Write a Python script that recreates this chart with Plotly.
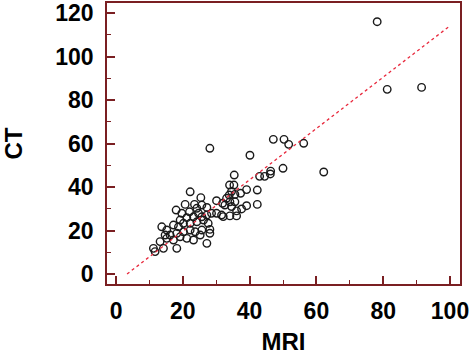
import plotly.graph_objects as go

mri = [78.2, 81.2, 91.5, 47.1, 50.3, 51.7, 56.2, 40.1, 28.1, 62.2,
       50.0, 35.4, 43.0, 44.5, 46.2, 46.3, 39.1, 42.3, 34.0, 35.3,
       34.6, 22.2, 42.3, 39.1, 37.3, 35.6, 33.9, 33.1, 34.1, 35.6,
       32.6, 34.6, 37.6, 36.1, 32.1, 34.1, 36.1, 25.4, 23.5, 20.7,
       18.0, 19.7, 22.0, 24.2, 25.7, 27.2, 30.1, 31.9, 19.2, 21.2,
       23.2, 24.7, 25.7, 27.2, 28.6, 30.1, 31.6, 13.7, 15.2, 17.2,
       18.7, 20.2, 22.2, 24.2, 26.2, 27.6, 14.7, 16.2, 18.2, 20.2,
       22.2, 23.7, 25.7, 28.1, 28.1, 13.2, 15.2, 17.2, 19.2, 21.2,
       23.2, 25.2, 11.2, 11.7, 14.2, 18.2, 27.2]
ct = [116.0, 84.9, 85.8, 61.9, 61.9, 59.6, 60.1, 54.6, 57.8, 46.9,
      48.6, 45.5, 44.9, 44.9, 46.0, 47.3, 38.8, 38.6, 40.9, 40.9,
      38.0, 37.8, 32.0, 31.4, 37.1, 36.6, 36.3, 34.8, 33.2, 33.2,
      31.7, 31.0, 29.9, 29.0, 26.4, 26.7, 26.7, 35.1, 32.0, 32.0,
      29.4, 27.9, 28.6, 30.2, 31.7, 30.6, 33.7, 32.5, 24.8, 25.9,
      26.3, 27.9, 26.3, 27.1, 27.9, 27.9, 27.1, 21.7, 20.2, 22.5,
      21.7, 23.3, 23.3, 24.0, 24.8, 23.3, 17.9, 17.9, 18.7, 19.4,
      20.2, 19.4, 20.2, 20.5, 18.7, 14.9, 16.4, 15.6, 17.1, 16.4,
      15.6, 17.9, 11.8, 10.3, 11.8, 11.8, 14.1]

fit_slope = 1.18
fit_intercept = -3.9
fit_x = [3.3, 100.0]
fit_y = [fit_slope * v + fit_intercept for v in fit_x]

x_ticks = [0, 20, 40, 60, 80, 100]
y_ticks = [0, 20, 40, 60, 80, 100, 120]

frame = "#7a1f22"
font_family = "Liberation Sans, Arial, sans-serif"

fig = go.Figure()
fig.add_trace(go.Scatter(
    x=mri, y=ct, mode="markers",
    marker=dict(symbol="circle-open", size=7.5, color="#1a1a1a",
                line=dict(width=1.4, color="#1a1a1a")),
    showlegend=False))
fig.add_trace(go.Scatter(
    x=fit_x, y=fit_y, mode="lines",
    line=dict(color="#e8283c", width=1.3, dash="dot"),
    showlegend=False))

axis_common = dict(
    showline=True, linecolor=frame, linewidth=1.6, mirror=True,
    ticks="inside", ticklen=8, tickwidth=1.5, tickcolor=frame,
    showgrid=False, zeroline=False, automargin=False,
    tickfont=dict(family=font_family, size=23, color="black", weight="bold"),
    minor=dict(ticks="inside", ticklen=4, tickwidth=1.2, tickcolor=frame, dtick=10),
)

fig.update_layout(
    width=474, height=355,
    margin=dict(l=107, r=14, t=3, b=71),
    paper_bgcolor="white", plot_bgcolor="white",
    font=dict(family=font_family),
    xaxis=dict(range=[-2.7, 103], tickvals=x_ticks, ticklabelstandoff=6,
               title=dict(text="MRI", font=dict(family=font_family, size=24, color="black", weight="bold"),
                          standoff=21),
               **axis_common),
    yaxis=dict(range=[-4.6, 124.6], tickvals=y_ticks, ticklabelstandoff=7,
               title=dict(text="CT", font=dict(family=font_family, size=24, color="black", weight="bold"),
                          standoff=30),
               **axis_common),
)

fig.write_html("out.html", config={"displayModeBar": False},
               post_script="document.body.style.margin='0';document.body.style.overflow='hidden';")
